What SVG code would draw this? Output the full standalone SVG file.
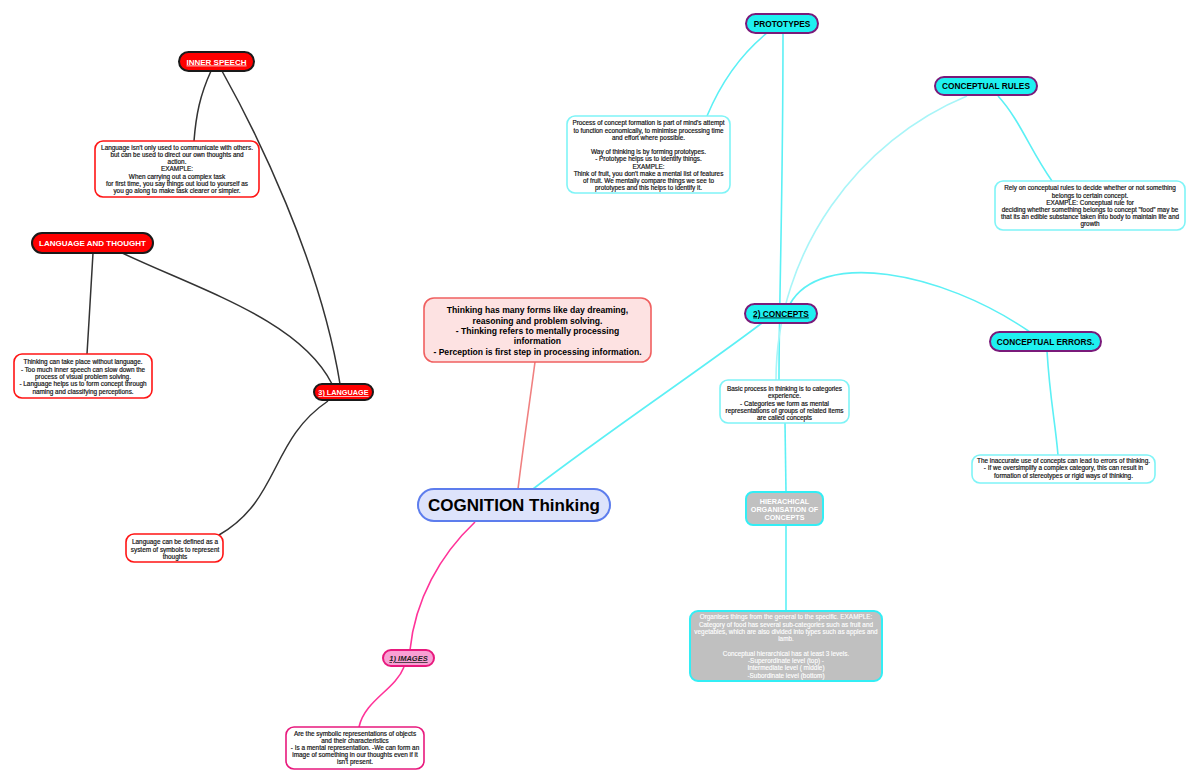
<svg xmlns="http://www.w3.org/2000/svg" width="1200" height="784" viewBox="0 0 1200 784">
<style>
text{font-family:"Liberation Sans",Arial,sans-serif;text-anchor:middle}
.note{font-size:6.4px;fill:#111;stroke:#111;stroke-width:0.18}
.ntw{font-size:6.4px;fill:#fff;stroke:#fff;stroke-width:0.12}
.redp{fill:#ff0000;stroke:#1a1a1a;stroke-width:2}
.cyp{fill:#1ff0f0;stroke:#7a1a7a;stroke-width:2}
.rn{fill:#fff;stroke:#ff1414;stroke-width:1.6}
.cn{fill:#fff;stroke:#7ff4f7;stroke-width:1.6}
.lbw{font-size:8px;font-weight:bold;fill:#fff}
.lbk{font-size:8.3px;font-weight:bold;fill:#000}
.dk{fill:none;stroke:#333;stroke-width:1.5}
.cy{fill:none;stroke:#5cf0f5;stroke-width:1.6}
.cyl{fill:none;stroke:#a8f5f8;stroke-width:1.6}
</style>
<rect width="1200" height="784" fill="#fff"/>
<g id="connectors">
<path class="dk" d="M211,71 C200,95 196,115 194,141"/>
<path class="dk" d="M222,71 C255,130 320,260 340,384"/>
<path class="dk" d="M93,253 C91,290 89,320 87,354"/>
<path class="dk" d="M120,252 C200,290 300,320 332,384"/>
<path class="dk" d="M328,401 C270,440 280,500 219,535"/>
<path fill="none" stroke="#f08080" stroke-width="1.6" d="M518,489 C524,440 530,400 535,362"/>
<path class="cy" d="M533,489 C610,430 700,370 762,323"/>
<path fill="none" stroke="#ff3399" stroke-width="1.6" d="M475,522 C440,555 415,600 410,650"/>
<path fill="none" stroke="#ff3399" stroke-width="1.6" d="M404,667 C395,690 365,700 359,727"/>
<path class="cy" d="M783,33 C783,200 779,300 779,380"/>
<path class="cy" d="M767,33 C740,55 720,85 707,116"/>
<path class="cyl" d="M776,380 C776,250 860,140 967,96"/>
<path class="cy" d="M998,96 C1020,120 1030,150 1052,181"/>
<path class="cy" d="M790,304 C820,250 940,270 1030,332"/>
<path class="cy" d="M1047,351 C1050,400 1055,420 1058,455"/>
<path class="cy" d="M785,423 L786,492"/>
<path class="cy" d="M786,525 L786,611"/>
</g>
<g id="inner-speech">
<rect class="redp" x="179" y="52" width="75" height="19" rx="9.5"/>
<text class="lbw" x="216.5" y="64.5" text-decoration="underline">INNER SPEECH</text>
</g>
<g id="inner-speech-note">
<rect class="rn" x="95" y="141" width="164" height="56" rx="8"/>
<text class="note" x="177" y="149.5">Language isn't only used to communicate with others.</text>
<text class="note" x="177" y="156.8">but can be used to direct our own thoughts and</text>
<text class="note" x="177" y="164.1">action.</text>
<text class="note" x="177" y="171.4">EXAMPLE:</text>
<text class="note" x="177" y="178.7">When carrying out a complex task</text>
<text class="note" x="177" y="186">for first time, you say things out loud to yourself as</text>
<text class="note" x="177" y="193.3">you go along to make task clearer or simpler.</text>
</g>
<g id="language-and-thought">
<rect class="redp" x="32" y="233" width="121" height="20" rx="10"/>
<text class="lbw" x="92.5" y="246">LANGUAGE AND THOUGHT</text>
</g>
<g id="language-thought-note">
<rect class="rn" x="14" y="354" width="138" height="44" rx="8"/>
<text class="note" x="83" y="364.3">Thinking can take place without language.</text>
<text class="note" x="83" y="371.6">- Too much inner speech can slow down the</text>
<text class="note" x="83" y="378.9">process of visual problem solving.</text>
<text class="note" x="83" y="386.2">- Language helps us to form concept through</text>
<text class="note" x="83" y="393.5">naming and classifying perceptions.</text>
</g>
<g id="language">
<rect class="redp" x="314" y="384" width="59" height="16" rx="8"/>
<text class="lbw" x="343.5" y="395" style="font-size:7.3px" text-decoration="underline">3) LANGUAGE</text>
</g>
<g id="language-def-note">
<rect class="rn" x="126" y="534" width="97" height="28" rx="8"/>
<text class="note" x="175" y="544.3">Language can be defined as a</text>
<text class="note" x="175" y="551.6">system of symbols to represent</text>
<text class="note" x="175" y="558.9">thoughts</text>
</g>
<g id="thinking-forms">
<rect x="424" y="298" width="227" height="64" rx="10" fill="#fde2e2" stroke="#f06060" stroke-width="1.6"/>
<text x="537.5" y="313.2" style="font-size:8.6px;font-weight:bold">Thinking has many forms like day dreaming,</text>
<text x="537.5" y="323.6" style="font-size:8.6px;font-weight:bold">reasoning and problem solving.</text>
<text x="537.5" y="334" style="font-size:8.6px;font-weight:bold">- Thinking refers to mentally processing</text>
<text x="537.5" y="344.4" style="font-size:8.6px;font-weight:bold">information</text>
<text x="537.5" y="354.8" style="font-size:8.6px;font-weight:bold">- Perception is first step in processing information.</text>
</g>
<g id="cognition">
<rect x="418" y="489" width="192" height="32" rx="16" fill="#dde3fb" stroke="#5d7ded" stroke-width="2"/>
<text x="514" y="511" style="font-size:17px;font-weight:bold;fill:#000">COGNITION Thinking</text>
</g>
<g id="images">
<rect x="383" y="650" width="51" height="16" rx="8" fill="#f9a0d4" stroke="#e8197d" stroke-width="2"/>
<text x="408.5" y="661" style="font-size:7.5px;font-weight:bold;font-style:italic;fill:#222" text-decoration="underline">1) IMAGES</text>
</g>
<g id="images-note">
<rect x="286" y="727" width="138" height="42" rx="8" fill="#fff" stroke="#e8197d" stroke-width="1.6"/>
<text class="note" x="355" y="736.3">Are the symbolic representations of objects</text>
<text class="note" x="355" y="743.3">and their characteristics</text>
<text class="note" x="355" y="750.3">- Is a mental representation.  -We can form an</text>
<text class="note" x="355" y="757.3">image of something in our thoughts even if it</text>
<text class="note" x="355" y="764.3">isn't present.</text>
</g>
<g id="prototypes">
<rect class="cyp" x="746" y="14" width="72" height="19" rx="9.5"/>
<text class="lbk" x="782" y="26.5">PROTOTYPES</text>
</g>
<g id="prototypes-note">
<rect class="cn" x="567" y="116" width="163" height="77" rx="8"/>
<text class="note" x="648.5" y="125.3">Process of concept formation is part of mind's attempt</text>
<text class="note" x="648.5" y="132.6">to function economically, to minimise processing time</text>
<text class="note" x="648.5" y="139.9">and effort where possible.</text>
<text class="note" x="648.5" y="154.3">Way of thinking is by forming prototypes.</text>
<text class="note" x="648.5" y="161.4">- Prototype helps us to identify things.</text>
<text class="note" x="648.5" y="168.5">EXAMPLE:</text>
<text class="note" x="648.5" y="175.6">Think of fruit, you don't make a mental list of features</text>
<text class="note" x="648.5" y="182.7">of fruit. We mentally compare things we see to</text>
<text class="note" x="648.5" y="189.8">prototypes and this helps to identify it.</text>
</g>
<g id="conceptual-rules">
<rect class="cyp" x="935" y="77" width="102" height="18" rx="9"/>
<text class="lbk" x="986" y="89">CONCEPTUAL RULES</text>
</g>
<g id="conceptual-rules-note">
<rect class="cn" x="995" y="181" width="190" height="49" rx="8"/>
<text class="note" x="1090" y="190.3">Rely on conceptual rules to decide whether or not something</text>
<text class="note" x="1090" y="197.5">belongs to certain concept.</text>
<text class="note" x="1090" y="204.7">EXAMPLE: Conceptual rule for</text>
<text class="note" x="1090" y="211.9">deciding whether something belongs to concept "food" may be</text>
<text class="note" x="1090" y="219.1">that its an edible substance taken into body to maintain life and</text>
<text class="note" x="1090" y="226.3">growth</text>
</g>
<g id="concepts">
<rect class="cyp" x="745" y="304" width="72" height="19" rx="9.5"/>
<text class="lbk" x="781" y="316.5" text-decoration="underline">2) CONCEPTS</text>
</g>
<g id="concepts-note">
<rect class="cn" x="720" y="380" width="129" height="43" rx="8"/>
<text class="note" x="784.5" y="391.3">Basic process in thinking is to categories</text>
<text class="note" x="784.5" y="398.4">experience.</text>
<text class="note" x="784.5" y="405.5">- Categories we form as mental</text>
<text class="note" x="784.5" y="412.6">representations of groups of related items</text>
<text class="note" x="784.5" y="419.7">are called concepts</text>
</g>
<g id="conceptual-errors">
<rect class="cyp" x="990" y="332" width="111" height="19" rx="9.5"/>
<text class="lbk" x="1045.5" y="344.5">CONCEPTUAL ERRORS.</text>
</g>
<g id="conceptual-errors-note">
<rect class="cn" x="972" y="455" width="183" height="28" rx="8"/>
<text class="note" x="1063.5" y="463.3">The inaccurate use of concepts can lead to errors of thinking.</text>
<text class="note" x="1063.5" y="470.4">- If we oversimplify a complex category, this can result in</text>
<text class="note" x="1063.5" y="477.5">formation of stereotypes or rigid ways of thinking.</text>
</g>
<g id="hierarchical">
<rect x="746" y="492" width="77" height="33" rx="7" fill="#c0c0c0" stroke="#33eef5" stroke-width="2"/>
<text x="784.5" y="503.5" style="font-size:7.2px;font-weight:bold;fill:#fff">HIERACHICAL</text>
<text x="784.5" y="511.5" style="font-size:7.2px;font-weight:bold;fill:#fff">ORGANISATION OF</text>
<text x="784.5" y="519.5" style="font-size:7.2px;font-weight:bold;fill:#fff">CONCEPTS</text>
</g>
<g id="hierarchical-note">
<rect x="690" y="611" width="192" height="70" rx="8" fill="#c0c0c0" stroke="#33eef5" stroke-width="2"/>
<text class="ntw" x="786" y="619.3">Organises things from the general to the specific. EXAMPLE:</text>
<text class="ntw" x="786" y="626.6">Category of food has several sub-categories such as fruit and</text>
<text class="ntw" x="786" y="633.9">vegetables, which are also divided into types such as apples and</text>
<text class="ntw" x="786" y="641.2">lamb.</text>
<text class="ntw" x="786" y="655.8">Conceptual hierarchical has at least 3 levels.</text>
<text class="ntw" x="786" y="663.1">-Superordinate level (top) -</text>
<text class="ntw" x="786" y="670.4">Intermediate level ( middle)</text>
<text class="ntw" x="786" y="677.7">-Subordinate level (bottom)</text>
</g>
</svg>
